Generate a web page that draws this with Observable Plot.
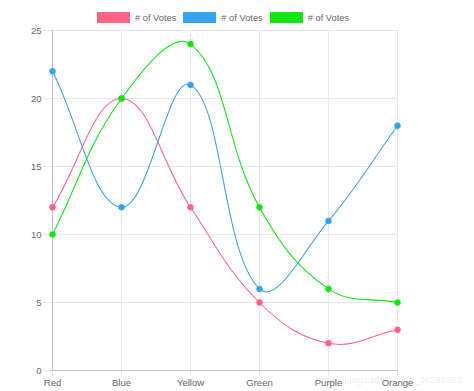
<!DOCTYPE html>
<html>
<head>
<meta charset="utf-8">
<script src="https://cdn.jsdelivr.net/npm/d3@7"></script>
<script src="https://cdn.jsdelivr.net/npm/@observablehq/plot@0.6"></script>
<style>
  body { margin: 0; background: #fff; font-family: "Liberation Sans", Arial, Helvetica, sans-serif; }
  #wrap { position: relative; width: 474px; height: 391px; overflow: hidden; }
  #legend { position: relative; height: 26px; display: flex; align-items: flex-start; padding-left: 97px; box-sizing: border-box; }
  .item { display: flex; align-items: center; margin-top: 12px; margin-right: 7px; font-size: 9.3px; color: #666; line-height: 10px; }
  .box { width: 31px; height: 9px; margin-right: 5px; border-width: 1px; border-style: solid; }
  #watermark { position: absolute; left: 316px; top: 374px; font-size: 9.5px; color: rgba(0,0,0,0.10); white-space: nowrap; }
</style>
</head>
<body>
<div id="wrap">
  <div id="legend"></div>
  <div id="chart"></div>
  <div id="watermark">https://blog.csdn.net/qq_36288559</div>
</div>
<script>
// ---- data ----
const categories = ["Red", "Blue", "Yellow", "Green", "Purple", "Orange"];
const seriesNames = ["# of Votes", "# of Votes", "# of Votes"];
const seriesColors = ["rgb(255,99,132)", "rgb(54,162,235)", "rgb(20,227,20)"];
const votesPink = [12, 20, 12, 5, 2, 3];
const votesBlue = [22, 12, 21, 6, 11, 18];
const votesGreen = [10, 20, 24, 12, 6, 5];
const yTicks = [0, 5, 10, 15, 20, 25];

const seriesValues = [votesPink, votesBlue, votesGreen];
const rows = [];
seriesValues.forEach((vals, s) => vals.forEach((v, i) => rows.push({series: s, cat: categories[i], value: v})));

// ---- layout ----
const W = 474, H = 365;
const mL = 50, mR = 76, mT = 4, mB = 21;

// Chart.js v2 style bezier spline (tension 0.4) with control points capped to chart area
function chartJsSpline(tension, bounds) {
  return function(context) {
    let pts;
    return {
      areaStart() {}, areaEnd() {},
      lineStart() { pts = []; },
      point(x, y) { pts.push([+x, +y]); },
      lineEnd() {
        const n = pts.length;
        if (!n) return;
        const cps = pts.map((cur, i) => {
          const prev = pts[i - 1] || cur, next = pts[i + 1] || cur;
          const d01 = Math.hypot(cur[0] - prev[0], cur[1] - prev[1]);
          const d12 = Math.hypot(next[0] - cur[0], next[1] - cur[1]);
          let s01 = d01 / (d01 + d12), s12 = d12 / (d01 + d12);
          if (isNaN(s01)) s01 = 0; if (isNaN(s12)) s12 = 0;
          const fa = tension * s01, fb = tension * s12;
          const cl = (p) => [Math.max(bounds.left, Math.min(bounds.right, p[0])), Math.max(bounds.top, Math.min(bounds.bottom, p[1]))];
          return {
            prev: cl([cur[0] - fa * (next[0] - prev[0]), cur[1] - fa * (next[1] - prev[1])]),
            next: cl([cur[0] + fb * (next[0] - prev[0]), cur[1] + fb * (next[1] - prev[1])])
          };
        });
        context.moveTo(pts[0][0], pts[0][1]);
        for (let i = 1; i < n; i++) {
          context.bezierCurveTo(cps[i - 1].next[0], cps[i - 1].next[1], cps[i].prev[0], cps[i].prev[1], pts[i][0], pts[i][1]);
        }
      }
    };
  };
}
const curve = chartJsSpline(0.4, {left: mL, right: W - mR, top: mT, bottom: H - mB});

// ---- legend ----
const legend = document.getElementById("legend");
seriesNames.forEach((name, i) => {
  const item = document.createElement("div");
  item.className = "item";
  const box = document.createElement("div");
  box.className = "box";
  box.style.background = seriesColors[i];
  box.style.borderColor = seriesColors[i];
  const t = document.createElement("span");
  t.textContent = name;
  item.appendChild(box); item.appendChild(t);
  legend.appendChild(item);
});

// ---- chart ----
const chart = Plot.plot({
  width: W, height: H,
  marginLeft: mL, marginRight: mR, marginTop: mT, marginBottom: mB,
  style: {fontFamily: '"Liberation Sans", Arial, Helvetica, sans-serif', fontSize: "9.5px", background: "#fff"},
  x: {type: "point", domain: categories, padding: 0, label: null},
  y: {domain: [0, 25], label: null},
  marks: [
    Plot.gridX(categories, {stroke: "#e8e8e8", strokeOpacity: 1}),
    Plot.gridY(yTicks, {stroke: "#e8e8e8", strokeOpacity: 1}),
    Plot.axisX(categories, {tickSize: 6, tickPadding: 3, stroke: "#e8e8e8", fill: "#666", label: null}),
    Plot.axisY(yTicks, {tickSize: 7, tickPadding: 2, stroke: "#e8e8e8", fill: "#666", label: null}),
    Plot.ruleY([0], {stroke: "#c4c4c4"}),
    Plot.ruleX([categories[0]], {stroke: "#c4c4c4"}),
    ...seriesValues.map((vals, s) =>
      Plot.line(rows.filter(d => d.series === s), {x: "cat", y: "value", stroke: seriesColors[s], strokeWidth: 1.05, curve})
    ),
    ...seriesValues.map((vals, s) =>
      Plot.dot(rows.filter(d => d.series === s), {x: "cat", y: "value", r: 3, fill: seriesColors[s], stroke: seriesColors[s], strokeWidth: 0.5})
    )
  ]
});
document.getElementById("chart").appendChild(chart);
</script>
</body>
</html>
